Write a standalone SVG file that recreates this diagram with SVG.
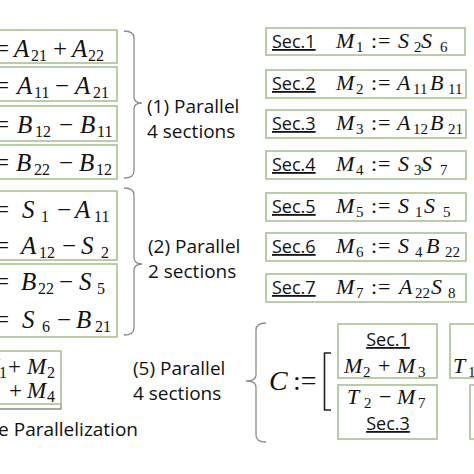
<svg xmlns="http://www.w3.org/2000/svg" width="474" height="474" viewBox="0 0 474 474">
<style>
.box{fill:#fff;stroke:#a9c193;stroke-width:1.6}
.br{fill:none;stroke:#8c8c8c;stroke-width:1.3}
.m{font-family:"Liberation Serif","DejaVu Serif",serif;font-size:25px;fill:#111}
.r{font-size:22px}
.i{font-style:italic}
.s{font-size:16px;font-style:normal}
.rs{font-size:15px;font-style:normal}
.t{font-family:"Open Sans","Noto Sans","DejaVu Sans",sans-serif;font-size:19px;fill:#111}
.sec{font-family:"Open Sans","Noto Sans","DejaVu Sans",sans-serif;font-size:18px;fill:#111;text-decoration:underline}
</style>
<rect width="474" height="474" fill="#fff"/>

<g id="connectors">
<path class="br" d="M124,31 Q134,31 134,38 V97 Q134,103 142,103 Q134,103 134,109 V171 Q134,178 124,178"/>
<path class="br" d="M124,188 Q134,188 134,195 V257 Q134,264 142,264 Q134,264 134,271 V328 Q134,335 124,335"/>
<path class="br" d="M-2,409 H61 V404"/>
<path class="br" d="M266,323 Q256,323 256,330 V375 Q256,381 246,381 Q256,381 256,387 V435 Q256,442 266,442"/>
<path d="M331,353 H324.5 V410 H331" fill="none" stroke="#222" stroke-width="1.6"/>
</g>

<g id="s-add-1">
<rect class="box" x="-2" y="30" width="119" height="33"/>
<text class="m" y="57"><tspan x="-5">=</tspan><tspan x="14" class="i">A</tspan><tspan x="31" dy="4" class="s">21</tspan><tspan x="53" dy="-4">+</tspan><tspan x="72" class="i">A</tspan><tspan x="88" dy="4" class="s">22</tspan></text>
</g>
<g id="s-add-2">
<rect class="box" x="-2" y="67" width="119" height="34"/>
<text class="m" y="94"><tspan x="-5">=</tspan><tspan x="17" class="i">A</tspan><tspan x="34" dy="4" class="s">11</tspan><tspan x="55" dy="-4">−</tspan><tspan x="75" class="i">A</tspan><tspan x="93" dy="4" class="s">21</tspan></text>
</g>
<g id="s-add-3">
<rect class="box" x="-2" y="106" width="119" height="35"/>
<text class="m" y="133"><tspan x="-5">=</tspan><tspan x="17" class="i">B</tspan><tspan x="35" dy="4" class="s">12</tspan><tspan x="59" dy="-4">−</tspan><tspan x="80" class="i">B</tspan><tspan x="97" dy="4" class="s">11</tspan></text>
</g>
<g id="s-add-4">
<rect class="box" x="-2" y="145" width="119" height="34"/>
<text class="m" y="171"><tspan x="-5">=</tspan><tspan x="16" class="i">B</tspan><tspan x="34" dy="4" class="s">22</tspan><tspan x="59" dy="-4">−</tspan><tspan x="79" class="i">B</tspan><tspan x="96" dy="4" class="s">12</tspan></text>
</g>

<g id="s-add-5">
<rect class="box" x="-2" y="191" width="119" height="69"/>
<text class="m" y="218"><tspan x="-5">=</tspan><tspan x="22" class="i">S</tspan><tspan x="41" dy="4" class="s">1</tspan><tspan x="57" dy="-4">−</tspan><tspan x="75" class="i">A</tspan><tspan x="94" dy="4" class="s">11</tspan></text>
<text class="m" y="254"><tspan x="-5">=</tspan><tspan x="21" class="i">A</tspan><tspan x="39" dy="4" class="s">12</tspan><tspan x="62" dy="-4">−</tspan><tspan x="81" class="i">S</tspan><tspan x="101" dy="4" class="s">2</tspan></text>
</g>
<g id="s-add-6">
<rect class="box" x="-2" y="264" width="119" height="73"/>
<text class="m" y="290"><tspan x="-5">=</tspan><tspan x="21" class="i">B</tspan><tspan x="38" dy="4" class="s">22</tspan><tspan x="59" dy="-4">−</tspan><tspan x="79" class="i">S</tspan><tspan x="97" dy="4" class="s">5</tspan></text>
<text class="m" y="328"><tspan x="-5">=</tspan><tspan x="22" class="i">S</tspan><tspan x="42" dy="4" class="s">6</tspan><tspan x="57" dy="-4">−</tspan><tspan x="76" class="i">B</tspan><tspan x="95" dy="4" class="s">21</tspan></text>
</g>

<g id="t-add">
<rect class="box" x="-2" y="351" width="63" height="53"/>
<text class="m" y="374" style="font-size:23px"><tspan x="-20" class="i">M</tspan><tspan x="-1" dy="4" class="s">1</tspan><tspan x="8" dy="-4">+</tspan><tspan x="27" class="i">M</tspan><tspan x="47" dy="4" class="s">2</tspan></text>
<text class="m" y="398" style="font-size:23px"><tspan x="9">+</tspan><tspan x="27" class="i">M</tspan><tspan x="47" dy="4" class="s">4</tspan></text>
</g>

<g id="labels">
<text class="t" x="147" y="113">(1) Parallel</text>
<text class="t" x="147" y="138">4 sections</text>
<text class="t" x="148" y="253">(2) Parallel</text>
<text class="t" x="148" y="278">2 sections</text>
<text class="t" x="133" y="375">(5) Parallel</text>
<text class="t" x="133" y="400">4 sections</text>
<text class="t" x="138" y="436" text-anchor="end">e Parallelization</text>
</g>

<g id="sec1">
<rect class="box" x="266" y="28" width="199" height="27"/>
<text class="sec" x="272" y="48">Sec.1</text>
<text class="m r" y="48"><tspan x="336" class="i">M</tspan><tspan x="356" dy="4" class="rs">1</tspan><tspan x="371" dy="-4">:</tspan><tspan x="378">=</tspan><tspan x="398" class="i">S</tspan><tspan x="414" dy="4" class="rs">2</tspan><tspan x="421" dy="-4" class="i">S</tspan><tspan x="440" dy="4" class="rs">6</tspan></text>
</g>
<g id="sec2">
<rect class="box" x="266" y="70" width="200" height="28"/>
<text class="sec" x="272" y="90">Sec.2</text>
<text class="m r" y="90"><tspan x="336" class="i">M</tspan><tspan x="356" dy="4" class="rs">2</tspan><tspan x="371" dy="-4">:</tspan><tspan x="378">=</tspan><tspan x="397" class="i">A</tspan><tspan x="413" dy="4" class="rs">11</tspan><tspan x="430" dy="-4" class="i">B</tspan><tspan x="448" dy="4" class="rs">11</tspan></text>
</g>
<g id="sec3">
<rect class="box" x="266" y="110" width="200" height="28"/>
<text class="sec" x="272" y="130">Sec.3</text>
<text class="m r" y="130"><tspan x="336" class="i">M</tspan><tspan x="356" dy="4" class="rs">3</tspan><tspan x="371" dy="-4">:</tspan><tspan x="378">=</tspan><tspan x="397" class="i">A</tspan><tspan x="413" dy="4" class="rs">12</tspan><tspan x="430" dy="-4" class="i">B</tspan><tspan x="448" dy="4" class="rs">21</tspan></text>
</g>
<g id="sec4">
<rect class="box" x="266" y="151" width="200" height="28"/>
<text class="sec" x="272" y="171">Sec.4</text>
<text class="m r" y="171"><tspan x="336" class="i">M</tspan><tspan x="356" dy="4" class="rs">4</tspan><tspan x="371" dy="-4">:</tspan><tspan x="378">=</tspan><tspan x="398" class="i">S</tspan><tspan x="414" dy="4" class="rs">3</tspan><tspan x="421" dy="-4" class="i">S</tspan><tspan x="440" dy="4" class="rs">7</tspan></text>
</g>
<g id="sec5">
<rect class="box" x="266" y="193" width="200" height="28"/>
<text class="sec" x="272" y="213">Sec.5</text>
<text class="m r" y="213"><tspan x="336" class="i">M</tspan><tspan x="356" dy="4" class="rs">5</tspan><tspan x="371" dy="-4">:</tspan><tspan x="378">=</tspan><tspan x="398" class="i">S</tspan><tspan x="415" dy="4" class="rs">1</tspan><tspan x="424" dy="-4" class="i">S</tspan><tspan x="443" dy="4" class="rs">5</tspan></text>
</g>
<g id="sec6">
<rect class="box" x="266" y="233" width="200" height="28"/>
<text class="sec" x="272" y="253">Sec.6</text>
<text class="m r" y="253"><tspan x="336" class="i">M</tspan><tspan x="356" dy="4" class="rs">6</tspan><tspan x="371" dy="-4">:</tspan><tspan x="378">=</tspan><tspan x="398" class="i">S</tspan><tspan x="415" dy="4" class="rs">4</tspan><tspan x="426" dy="-4" class="i">B</tspan><tspan x="445" dy="4" class="rs">22</tspan></text>
</g>
<g id="sec7">
<rect class="box" x="266" y="274" width="200" height="28"/>
<text class="sec" x="272" y="294">Sec.7</text>
<text class="m r" y="294"><tspan x="336" class="i">M</tspan><tspan x="356" dy="4" class="rs">7</tspan><tspan x="371" dy="-4">:</tspan><tspan x="378">=</tspan><tspan x="399" class="i">A</tspan><tspan x="415" dy="4" class="rs">22</tspan><tspan x="431" dy="-4" class="i">S</tspan><tspan x="448" dy="4" class="rs">8</tspan></text>
</g>

<g id="c-assign">
<text class="m" y="390" style="font-size:28px"><tspan x="269" class="i">C</tspan><tspan x="293">:=</tspan></text>
</g>
<g id="c11">
<rect class="box" x="338" y="324" width="99" height="54"/>
<text class="sec" x="388" y="346" text-anchor="middle">Sec.1</text>
<text class="m r" y="373"><tspan x="344" class="i">M</tspan><tspan x="363" dy="4" class="rs">2</tspan><tspan x="378" dy="-4">+</tspan><tspan x="397" class="i">M</tspan><tspan x="418" dy="4" class="rs">3</tspan></text>
</g>
<g id="c21">
<rect class="box" x="338" y="385" width="99" height="54"/>
<text class="m r" y="404"><tspan x="347" class="i">T</tspan><tspan x="364" dy="4" class="rs">2</tspan><tspan x="379" dy="-4">−</tspan><tspan x="397" class="i">M</tspan><tspan x="418" dy="4" class="rs">7</tspan></text>
<text class="sec" x="388" y="430" text-anchor="middle">Sec.3</text>
</g>
<g id="c12">
<rect class="box" x="450" y="324" width="40" height="54"/>
<text class="m r" y="373"><tspan x="453" class="i">T</tspan><tspan x="468" dy="4" class="rs">1</tspan></text>
</g>
<g id="c22">
<rect class="box" x="470" y="385" width="40" height="54"/>
</g>
</svg>
